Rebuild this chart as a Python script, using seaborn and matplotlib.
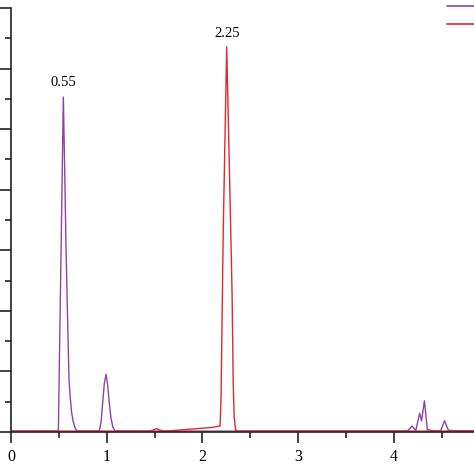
import numpy as np
import pandas as pd
import matplotlib
matplotlib.use("Agg")
import matplotlib.pyplot as plt
from matplotlib.ticker import MultipleLocator, NullFormatter
import seaborn as sns

# ---- data ----
purple_x = [0.0, 0.30, 0.495, 0.547, 0.560, 0.575, 0.590, 0.606, 0.620, 0.634,
            0.650, 0.668, 0.686, 0.75, 0.92, 0.94, 0.958, 0.975, 0.993, 1.010,
            1.027, 1.045, 1.065, 1.087, 1.15, 2.5, 4.10, 4.15, 4.19, 4.23,
            4.27, 4.29, 4.32, 4.35, 4.38, 4.42, 4.49, 4.53, 4.57, 4.65, 4.84]
purple_y = [0.03, 0.03, 0.03, 11.06, 8.8, 6.1, 3.9, 1.72, 1.1, 0.63,
            0.35, 0.15, 0.04, 0.03, 0.03, 0.3, 0.96, 1.6, 1.91, 1.55,
            0.96, 0.45, 0.15, 0.04, 0.03, 0.03, 0.03, 0.05, 0.2, 0.05,
            0.62, 0.37, 1.03, 0.09, 0.06, 0.04, 0.04, 0.37, 0.06, 0.04, 0.04]

red_x = [0.0, 1.45, 1.49, 1.52, 1.55, 1.60, 1.70, 1.90, 2.10, 2.185,
         2.195, 2.218, 2.254, 2.275, 2.296, 2.31, 2.322, 2.332, 2.345, 2.36,
         2.40, 3.0, 4.0, 4.84]
red_y = [0.03, 0.03, 0.07, 0.11, 0.07, 0.03, 0.05, 0.10, 0.15, 0.20,
         1.2, 6.67, 12.72, 9.7, 6.67, 4.6, 1.6, 0.5, 0.1, 0.03,
         0.03, 0.03, 0.03, 0.03]

peak_labels = ["0.55", "2.25"]
peak_x = [0.55, 2.257]
peak_y = [11.55, 13.17]

series_names = ["purple", "red"]
colors = ["#8e44a0", "#e0282d"]

df = pd.concat([
    pd.DataFrame({"time": purple_x, "signal": purple_y, "series": series_names[0]}),
    pd.DataFrame({"time": red_x, "signal": red_y, "series": series_names[1]}),
])

sns.set_style("ticks")
plt.rcParams['font.family'] = ['Liberation Serif', 'DejaVu Serif']

fig = plt.figure(figsize=(4.74, 4.74), dpi=100)
ax = fig.add_axes([11 / 474, 42 / 474, 463 / 474, 424 / 474])

sns.lineplot(data=df, x="time", y="signal", hue="series", palette=colors,
             linewidth=1.0, ax=ax, legend=False, sort=False, estimator=None)

for lab, xx, yy in zip(peak_labels, peak_x, peak_y):
    ax.text(xx, yy, lab, ha="center", va="center", fontsize=10.5, color="black")

ax.set_xlim(0, 463 / 95.7)
ax.set_ylim(0, 14)
ax.xaxis.set_major_locator(MultipleLocator(1))
ax.xaxis.set_minor_locator(MultipleLocator(0.5))
ax.yaxis.set_major_locator(MultipleLocator(2))
ax.yaxis.set_minor_locator(MultipleLocator(1))
ax.yaxis.set_major_formatter(NullFormatter())
ax.tick_params(axis="both", which="major", length=8, width=1.2, color="#222222",
               labelsize=11.5, labelcolor="black", pad=4)
ax.tick_params(axis="both", which="minor", length=4, width=1.2, color="#222222")
ax.set_xlabel("")
ax.set_ylabel("")
for s in ["top", "right"]:
    ax.spines[s].set_visible(False)
for s in ["left", "bottom"]:
    ax.spines[s].set_linewidth(1.2)
    ax.spines[s].set_color("#222222")

# legend: only the line keys show in the reference, their labels fall off the edge
handles = [plt.Line2D([], [], color=c, lw=1.2) for c in colors]
fig.legend(handles, ["", ""], loc="upper left",
           bbox_to_anchor=(447 / 474, 1 - 1.5 / 474), bbox_transform=fig.transFigure,
           frameon=False, borderpad=0, borderaxespad=0, handlelength=3,
           fontsize=9, labelspacing=0.5)

fig.savefig("out.png", dpi=100)
